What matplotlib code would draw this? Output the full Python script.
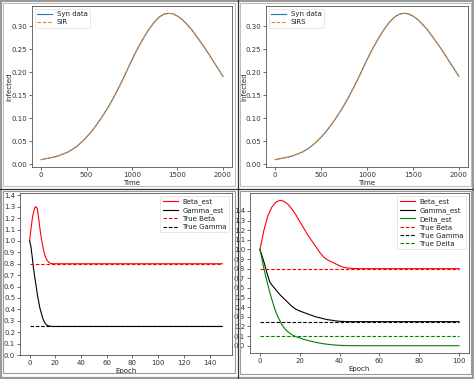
import matplotlib
matplotlib.use("Agg")
import matplotlib.pyplot as plt
from matplotlib.lines import Line2D
from matplotlib.patches import Rectangle

# ---------------- data ----------------
time = [0, 50, 100, 150, 200, 250, 300, 350, 400, 450, 500, 550, 600, 650, 700,
        750, 800, 850, 900, 950, 1000, 1050, 1100, 1150, 1200, 1250, 1300, 1350,
        1400, 1450, 1500, 1550, 1600, 1650, 1700, 1750, 1800, 1850, 1900, 1950, 2000]
infected = [0.010, 0.012, 0.014, 0.016, 0.019, 0.023, 0.027, 0.033, 0.040, 0.049,
            0.059, 0.070, 0.083, 0.097, 0.112, 0.128, 0.146, 0.165, 0.185, 0.206,
            0.227, 0.247, 0.265, 0.282, 0.297, 0.310, 0.320, 0.326, 0.328, 0.327,
            0.322, 0.315, 0.305, 0.294, 0.281, 0.267, 0.253, 0.238, 0.222, 0.207,
            0.191]
time_ticks = [0, 500, 1000, 1500, 2000]

# SIR parameter estimation
sir_epoch = [0, 1, 2, 3, 4, 5, 6, 7, 8, 9, 10, 11, 12, 13, 14, 15, 16, 17, 18, 150]
sir_beta = [1.00, 1.10, 1.19, 1.25, 1.29, 1.30, 1.28, 1.20, 1.11, 1.03, 0.97,
            0.91, 0.87, 0.84, 0.825, 0.812, 0.805, 0.802, 0.800, 0.800]
sir_gamma = [1.00, 0.95, 0.86, 0.76, 0.68, 0.61, 0.53, 0.47, 0.41, 0.37, 0.33,
             0.30, 0.28, 0.265, 0.258, 0.254, 0.252, 0.251, 0.250, 0.250]
sir_true_beta = 0.8
sir_true_gamma = 0.25
sir_max_epoch = 150

# SIRS parameter estimation
sirs_epoch_b = [0, 2, 4, 6, 8, 10, 12, 14, 16, 18, 20, 22, 24, 26, 28, 30,
                32, 34, 36, 38, 40, 42, 44, 46, 48, 50, 100]
sirs_beta = [1.00, 1.20, 1.35, 1.44, 1.49, 1.51, 1.50, 1.47, 1.42, 1.36, 1.29,
             1.22, 1.15, 1.09, 1.03, 0.97, 0.92, 0.89, 0.87, 0.85, 0.83,
             0.815, 0.807, 0.803, 0.801, 0.800, 0.800]
sirs_epoch_g = [0, 2, 4, 5, 6, 8, 10, 12, 14, 16, 18, 20, 22, 24, 26, 28, 30,
                32, 34, 36, 38, 40, 42, 44, 100]
sirs_gamma = [1.00, 0.87, 0.72, 0.66, 0.63, 0.58, 0.53, 0.49, 0.45, 0.41, 0.38,
              0.36, 0.345, 0.33, 0.315, 0.30, 0.29, 0.28, 0.27, 0.265, 0.258,
              0.254, 0.252, 0.250, 0.250]
sirs_epoch_d = [0, 1, 2, 3, 4, 5, 6, 7, 8, 9, 10, 11, 12, 13, 14, 15, 16, 18,
                20, 24, 28, 32, 36, 40, 44, 50, 100]
sirs_delta = [1.00, 0.90, 0.80, 0.71, 0.63, 0.55, 0.48, 0.41, 0.35, 0.30, 0.26,
              0.22, 0.19, 0.165, 0.145, 0.13, 0.115, 0.095, 0.08, 0.055, 0.035,
              0.02, 0.01, 0.004, 0.001, 0.0, 0.0]
sirs_true_beta = 0.8
sirs_true_gamma = 0.25
sirs_true_delta = 0.1
sirs_max_epoch = 100

yticks_est = [0.0, 0.1, 0.2, 0.3, 0.4, 0.5, 0.6, 0.7, 0.8, 0.9, 1.0, 1.1, 1.2, 1.3, 1.4]

# ---------------- style ----------------
FS = 5.0
LW = 0.8
DASH = (0, (3.2, 1.6))
plt.rcParams.update({
    "font.family": "DejaVu Sans",
    "font.size": FS,
    "axes.linewidth": 0.5,
    "xtick.major.width": 0.5,
    "ytick.major.width": 0.5,
    "xtick.major.size": 2.0,
    "ytick.major.size": 2.0,
    "xtick.major.pad": 1.5,
    "ytick.major.pad": 1.5,
    "axes.labelpad": 1.5,
    "axes.edgecolor": "#333333",
    "xtick.color": "#333333",
    "ytick.color": "#333333",
    "axes.labelcolor": "#222222",
    "text.color": "#222222",
})

W, H = 474, 379
fig = plt.figure(figsize=(W / 100, H / 100), dpi=100)


def ax_px(left, top, right, bottom):
    return fig.add_axes([left / W, 1 - bottom / H, (right - left) / W, (bottom - top) / H])


def small_legend(ax, loc):
    leg = ax.legend(loc=loc, fontsize=FS, handlelength=2.2, handletextpad=0.6,
                    borderpad=0.35, labelspacing=0.3, framealpha=0.8,
                    borderaxespad=0.4)
    leg.get_frame().set_linewidth(0.4)
    return leg


# top-left: SIR fit
ax1 = ax_px(32, 6, 232, 167)
ax1.plot(time, infected, color="C0", lw=LW, label="Syn data")
ax1.plot(time, infected, color="C1", lw=LW, ls=DASH, label="SIR")
ax1.set_xticks(time_ticks)
ax1.set_xlabel("Time")
ax1.set_ylabel("Infected")
ax1.yaxis.set_label_coords(-0.098, 0.5)
small_legend(ax1, "upper left")

# top-right: SIRS fit
ax2 = ax_px(266, 6, 468, 167)
ax2.plot(time, infected, color="C0", lw=LW, label="Syn data")
ax2.plot(time, infected, color="C1", lw=LW, ls=DASH, label="SIRS")
ax2.set_xticks(time_ticks)
ax2.set_xlabel("Time")
ax2.set_ylabel("Infected")
ax2.yaxis.set_label_coords(-0.094, 0.5)
small_legend(ax2, "upper left")

# bottom-left: SIR parameters
ax3 = ax_px(20, 193, 232, 355)
ax3.plot(sir_epoch, sir_beta, color="red", lw=LW, label="Beta_est")
ax3.plot(sir_epoch, sir_gamma, color="black", lw=LW, label="Gamma_est")
ax3.plot([0, sir_max_epoch], [sir_true_beta] * 2, color="red", lw=LW, ls=DASH, label="True Beta")
ax3.plot([0, sir_max_epoch], [sir_true_gamma] * 2, color="black", lw=LW, ls=DASH, label="True Gamma")
ax3.set_ylim(0, 1.42)
ax3.set_yticks(yticks_est)
ax3.set_xticks([0, 20, 40, 60, 80, 100, 120, 140])
ax3.set_xlabel("Epoch")
small_legend(ax3, "upper right")

# bottom-right: SIRS parameters
ax4 = ax_px(250, 193, 469, 353)
ax4.plot(sirs_epoch_b, sirs_beta, color="red", lw=LW, label="Beta_est")
ax4.plot(sirs_epoch_g, sirs_gamma, color="black", lw=LW, label="Gamma_est")
ax4.plot(sirs_epoch_d, sirs_delta, color="green", lw=LW, label="Delta_est")
ax4.plot([0, sirs_max_epoch], [sirs_true_beta] * 2, color="red", lw=LW, ls=DASH, label="True Beta")
ax4.plot([0, sirs_max_epoch], [sirs_true_gamma] * 2, color="black", lw=LW, ls=DASH, label="True Gamma")
ax4.plot([0, sirs_max_epoch], [sirs_true_delta] * 2, color="green", lw=LW, ls=DASH, label="True Delta")
ax4.set_yticks(yticks_est)
ax4.set_xticks([0, 20, 40, 60, 80, 100])
ax4.set_xlabel("Epoch")
small_legend(ax4, "upper right")

# composite frame: panel borders and separators
def frame_px(x0, y0, x1, y1, color, lw):
    fig.add_artist(Rectangle((x0 / W, 1 - y1 / H), (x1 - x0) / W, (y1 - y0) / H,
                             transform=fig.transFigure, fill=False,
                             edgecolor=color, lw=lw))

frame_px(1, 1, 473, 378, "#9a9a9a", 1.6)
frame_px(3, 3, 235, 186, "#b0b0b0", 0.6)
frame_px(240, 3, 471, 186, "#b0b0b0", 0.6)
frame_px(3, 191, 235, 373, "#9a9a9a", 0.8)
frame_px(240, 191, 471, 374, "#9a9a9a", 0.8)
fig.add_artist(Line2D([237.5 / W] * 2, [0, 1], transform=fig.transFigure, color="#333333", lw=0.9))
fig.add_artist(Line2D([0, 1], [1 - 188.5 / H] * 2, transform=fig.transFigure, color="#333333", lw=0.9))

fig.savefig("out.png", dpi=100)
